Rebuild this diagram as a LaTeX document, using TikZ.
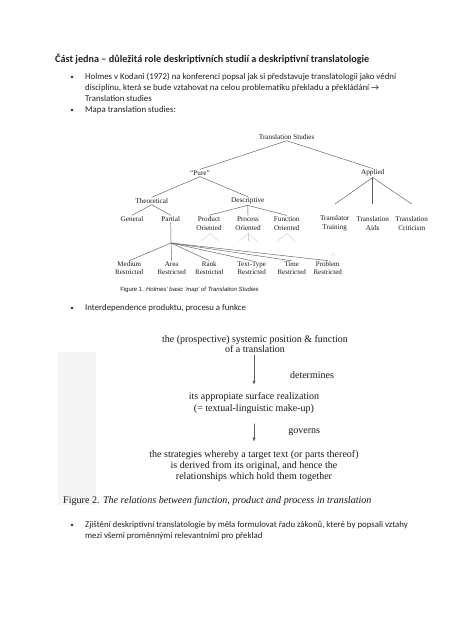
\documentclass[tikz,border=0pt]{standalone}
\usepackage{fontspec}
\setmainfont{Carlito}
\newfontfamily\scanfont{Liberation Serif}
\newfontfamily\capfont{Liberation Sans}
\usetikzlibrary{arrows.meta}
\definecolor{ink}{HTML}{222222}
\definecolor{scan}{HTML}{1A1A1A}
\definecolor{branch}{HTML}{5E5E5E}
\tikzset{
  body/.style={anchor=base west,inner sep=0pt,align=left,font=\fontsize{8.8}{11}\selectfont,text=ink},
  bul/.style={circle,fill=ink,inner sep=0pt,minimum size=2.6pt},
  leaf/.style={inner sep=1pt,align=center,font=\scanfont\fontsize{7.2}{9}\selectfont,text=scan},
  low/.style={leaf,font=\scanfont\fontsize{7}{8}\selectfont},
  branchline/.style={draw=branch,line width=0.45pt},
  faint/.style={draw=branch!30,line width=0.4pt},
  relbox/.style={inner sep=1pt,align=center,font=\scanfont\fontsize{10}{11.5}\selectfont,text=scan},
  relarrow/.style={draw=branch,line width=0.5pt,-{Triangle[width=3pt,length=3.5pt]}},
}
\begin{document}
\begin{tikzpicture}[x=1pt,y=-1pt,line join=round,line cap=round]
\useasboundingbox[fill=white] (0,0) rectangle (474,632);
% nadpis a odrazky (base = posledni radek)
\node[body,font=\bfseries\fontsize{10.2}{12}\selectfont] (head) at (55,62.5)
  {Část jedna – důležitá role deskriptivních studií a deskriptivní translatologie};
\foreach \y in {77,110,308,525}
  \node[bul] at (72,\y) {};
\node[body] (holmes) at (85,101.7) {Holmes v Kodani (1972) na konferenci popsal jak si představuje translatologii jako vědní\\
  disciplínu, která se bude vztahovat na celou problematiku překladu a překládání \textrightarrow\\
  Translation studies};
\node[body] (mapa) at (85,112.7) {Mapa translation studies:};
\node[body] (inter) at (85,310.7) {Interdependence produktu, procesu a funkce};
\node[body] (zjist) at (85,538.7) {Zjištění deskriptivní translatologie by měla formulovat řadu zákonů, které by popsali vztahy\\
  mezi všemi proměnnými relevantními pro překlad};
% Figure 1: mapa
\node[leaf] (ts) at (286.7,137) {Translation Studies};
\node[leaf] (pure) at (200,173) {“Pure”};
\node[leaf] (applied) at (372.7,173) {Applied};
\node[leaf] (theo) at (151.7,201) {Theoretical};
\node[leaf] (descr) at (247.7,201) {Descriptive};
\node[leaf] (general) at (132,219) {General};
\node[leaf] (partial) at (170.7,219) {Partial};
\node[leaf] (product) at (209,223.5) {Product\\Oriented};
\node[leaf] (process) at (248,223.5) {Process\\Oriented};
\node[leaf] (function) at (286.7,223.5) {Function\\Oriented};
\node[leaf] (training) at (334.7,223.5) {Translator\\Training};
\node[leaf] (aids) at (372.7,223.5) {Translation\\Aids};
\node[leaf] (criticism) at (411.7,223.5) {Translation\\Criticism};
\foreach \n/\x/\t in {medium/129.3/Medium,area/171.7/Area,rank/209.3/Rank,ttype/251.7/Text-Type,time/291.7/Time,problem/327.7/Problem}
  \node[low] (\n) at (\x,268.3) {\t\\Restricted};
\draw[branchline] (ts.south) -- (pure.north);
\draw[branchline] (ts.south) -- (applied.north);
\draw[branchline] (pure.south) -- (theo.north);
\draw[branchline] (pure.south) -- (descr.north);
\draw[branchline] (theo.south) -- (general.north);
\draw[branchline] (theo.south) -- (partial.north);
\foreach \n in {product,process,function}
  \draw[branchline] (descr.south) -- (\n.north);
\coordinate (trEnd) at (335,204);
\coordinate (aiEnd) at (372.7,204);
\coordinate (crEnd) at (411.7,204);
\foreach \n in {trEnd,aiEnd,crEnd}
  \draw[branchline] (applied.south) -- (\n);
\coordinate (hub) at (171,243);
\draw[branchline] (partial.south) -- (hub);
\foreach \n in {medium,area,rank,ttype,time,problem}
  \draw[branchline] (hub) -- (\n.north);
% slabe stopy pod "Oriented"
\foreach \x in {210,248.3,286.7}
  \draw[faint] (\x-9,241) -- (\x,233.3) -- (\x+8.5,241);
\draw[faint] (248.3,233.3) -- (248.3,241);
\draw[faint] (331,256) -- (333,253) -- (335,256);
\node[inner sep=0pt,font=\capfont\fontsize{6}{7}\selectfont,text=scan] (fig1) at (189.5,290)
  {Figure 1. \textit{Holmes’ basic ‘map’ of Translation Studies}};
% Figure 2: vztahy
\fill[black!4] (58,352) rectangle (96,505);
\node[relbox,font=\scanfont\fontsize{10}{10}\selectfont] (pos) at (255,344.5)
  {the (prospective) systemic position \& function\\of a translation};
\node[relbox] (real) at (254,403.3) {its appropiate surface realization\\(= textual-linguistic make-up)};
\node[relbox,font=\scanfont\fontsize{10}{11}\selectfont] (strat) at (254,466) {the strategies whereby a target text (or parts thereof)\\
  is derived from its original, and hence the\\relationships which hold them together};
\draw[relarrow,shorten <=1pt,shorten >=7.5pt] (pos.south -| real.north) -- (real.north);
\draw[relarrow,shorten <=9pt,shorten >=8pt] (real.south) -- (strat.north);
\node[relbox] (det) at (312,375) {determines};
\node[relbox] (gov) at (304.3,431.7) {governs};
\node[body,font=\scanfont\fontsize{10.1}{11}\selectfont,text=scan] (fig2) at (63,503)
  {Figure 2. \textit{The relations between function, product and process in translation}};
\end{tikzpicture}
\end{document}
